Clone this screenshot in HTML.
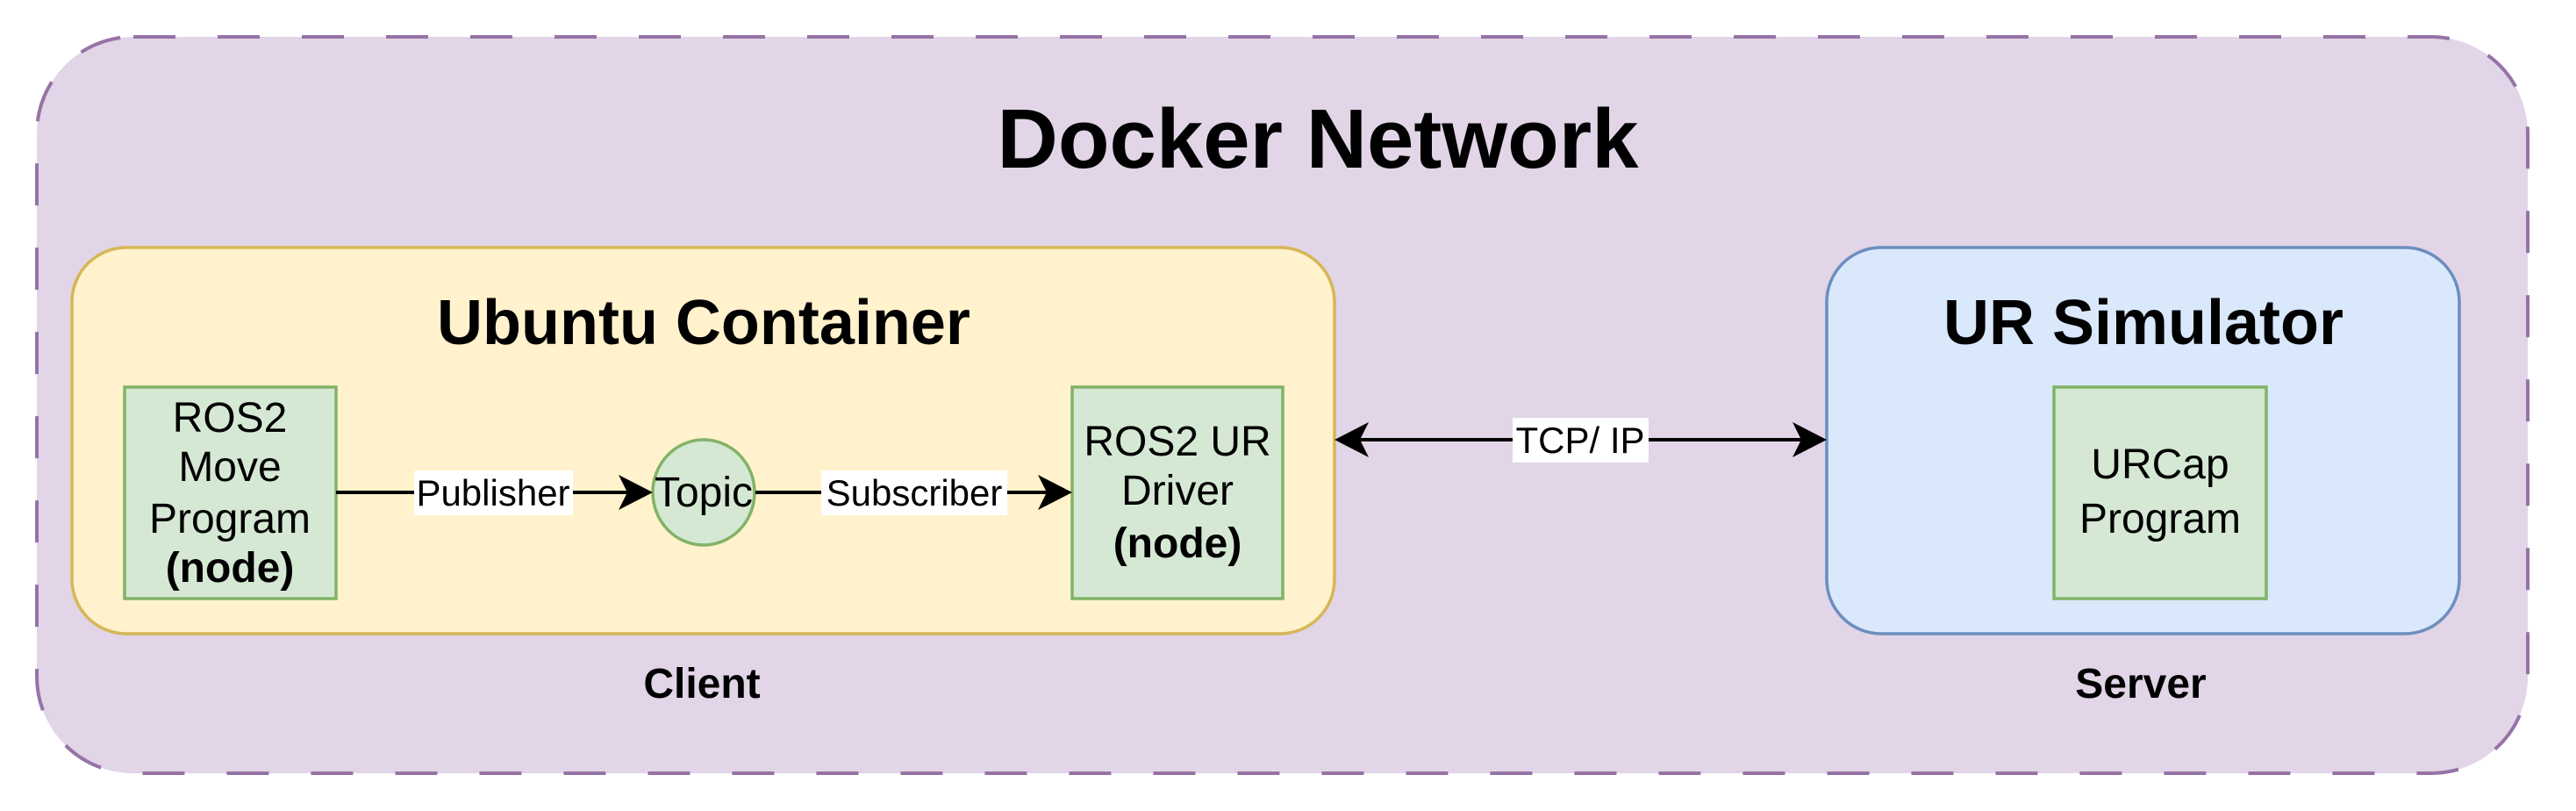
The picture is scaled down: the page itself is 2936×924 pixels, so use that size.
<!DOCTYPE html>
<html><head><meta charset="utf-8"><style>
html,body{margin:0;padding:0;background:#fff;}
svg{display:block;}
text{font-family:"Liberation Sans",Arial,sans-serif;fill:#000;}
</style></head><body>
<svg width="2936" height="924" viewBox="0 0 2936 924" xmlns="http://www.w3.org/2000/svg">
<rect x="42" y="42" width="2839" height="839" rx="110" ry="110" fill="#e1d5e7" stroke="#9673a6" stroke-width="4" stroke-dasharray="48 48"/>
<text x="1502" y="191" font-size="96" font-weight="bold" text-anchor="middle">Docker Network</text>

<rect x="82" y="282" width="1439" height="440" rx="62" ry="62" fill="#fff2cc" stroke="#d6b656" stroke-width="3.5"/>
<text x="802" y="392" font-size="72" font-weight="bold" text-anchor="middle">Ubuntu Container</text>

<rect x="2082" y="282" width="721" height="440" rx="62" ry="62" fill="#dae8fc" stroke="#6c8ebf" stroke-width="3.5"/>
<text x="2443" y="392" font-size="72" font-weight="bold" text-anchor="middle">UR Simulator</text>

<rect x="142" y="441" width="241" height="241" fill="#d5e8d4" stroke="#82b366" stroke-width="3.5"/>
<g font-size="48" text-anchor="middle">
<text x="262" y="492">ROS2</text>
<text x="262" y="548">Move</text>
<text x="262" y="607">Program</text>
<text x="262" y="663" font-weight="bold">(node)</text>
</g>

<rect x="1222" y="441" width="240" height="241" fill="#d5e8d4" stroke="#82b366" stroke-width="3.5"/>
<g font-size="48" text-anchor="middle">
<text x="1342" y="519">ROS2 UR</text>
<text x="1342" y="575">Driver</text>
<text x="1342" y="635" font-weight="bold">(node)</text>
</g>

<rect x="2341" y="441" width="242" height="241" fill="#d5e8d4" stroke="#82b366" stroke-width="3.5"/>
<g font-size="48" text-anchor="middle">
<text x="2462" y="545">URCap</text>
<text x="2462" y="607">Program</text>
</g>

<ellipse cx="802" cy="561" rx="58" ry="60" fill="#d5e8d4" stroke="#82b366" stroke-width="3.5"/>

<g stroke="#000" stroke-width="4" fill="none">
<line x1="383" y1="561" x2="730" y2="561"/>
<line x1="861" y1="561" x2="1208" y2="561"/>
<line x1="1535" y1="501" x2="2066" y2="501"/>
</g>
<g fill="#000">
<path d="M744 561 L705 541 L715 561 L705 581 Z"/>
<path d="M1222 561 L1183 541 L1193 561 L1183 581 Z"/>
<path d="M1521 501 L1560 481 L1550 501 L1560 521 Z"/>
<path d="M2082 501 L2043 481 L2053 501 L2043 521 Z"/>
</g>

<rect x="472" y="536" width="181" height="51" fill="#fff"/>
<text x="562" y="576" font-size="42" text-anchor="middle">Publisher</text>
<text x="802" y="577" font-size="48" text-anchor="middle">Topic</text>
<rect x="936" y="536" width="212" height="51" fill="#fff"/>
<text x="1042" y="576" font-size="42" text-anchor="middle">Subscriber</text>
<rect x="1724" y="476" width="155" height="51" fill="#fff"/>
<text x="1801" y="516" font-size="42" text-anchor="middle">TCP/ IP</text>

<text x="800" y="795" font-size="48" font-weight="bold" text-anchor="middle">Client</text>
<text x="2440" y="795" font-size="48" font-weight="bold" text-anchor="middle">Server</text>
</svg>
</body></html>
